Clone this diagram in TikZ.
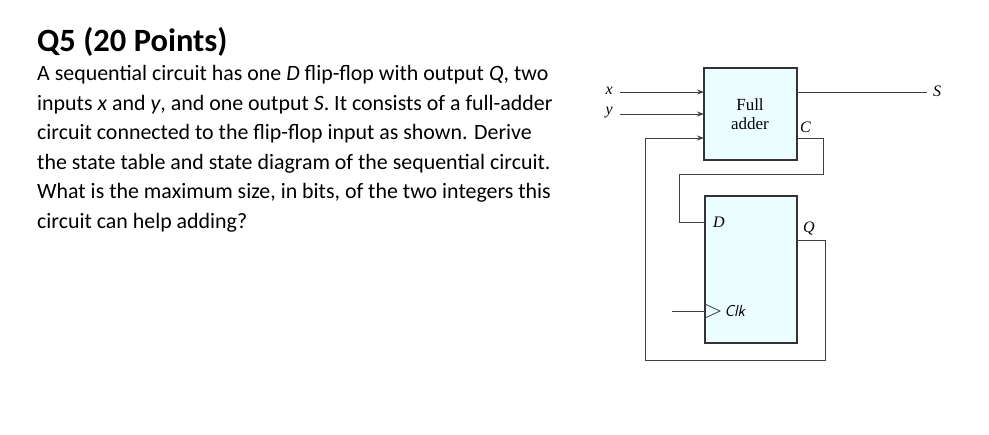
\documentclass[tikz,border=0pt]{standalone}
\usepackage{fontspec}
\setmainfont{Carlito}
\newfontfamily\serifc{Liberation Serif}
\usetikzlibrary{arrows.meta}
\begin{document}
\begin{tikzpicture}[x=1pt,y=-1pt,
  blk/.style={draw=black!80,line width=1.2pt,fill=blue!10!cyan!8},
  wire/.style={draw=black!75,line width=0.9pt},
  arr/.style={wire,-{Stealth[length=7pt,width=5pt]}},
  lbl/.style={font=\serifc\itshape\fontsize{16}{17}\selectfont,inner sep=1pt},
  txt/.style={anchor=base west,inner sep=0pt,font=\fontsize{21.9}{24}\selectfont}]
\useasboundingbox (0,0) rectangle (989,435);
% text
\node[txt,font=\bfseries\fontsize{32.5}{34}\selectfont] (t0) at (37,52) {Q5 (20 Points)};
\node[txt] (t1) at (37,81) {A sequential circuit has one \textit{D} flip-flop with output \textit{Q}, two};
\node[txt] (t2) at (37,110.5) {inputs \textit{x} and \textit{y}, and one output \textit{S}. It consists of a full-adder};
\node[txt] (t3) at (37,140) {circuit connected to the flip-flop input as shown. Derive};
\node[txt] (t4) at (37,169.5) {the state table and state diagram of the sequential circuit.};
\node[txt] (t5) at (37,199) {What is the maximum size, in bits, of the two integers this};
\node[txt] (t6) at (37,228.5) {circuit can help adding?};
% blocks
\draw[blk] (704,68) rectangle (797,160);
\node[font=\serifc\fontsize{17}{19}\selectfont,align=center] (fa) at (750,114) {Full\\adder};
\draw[blk] (705,196) rectangle (797,343);
% inputs
\coordinate (xs) at (620,92); \coordinate (xe) at (704,92);
\coordinate (ys) at (620,114); \coordinate (ye) at (704,114);
\coordinate (ce) at (704,138);
\node[lbl,anchor=east] (xl) at (614,91) {x};
\node[lbl,anchor=east] (yl) at (614,113) {y};
\draw[arr] (xs) -- (xe);
\draw[arr] (ys) -- (ye);
% S
\coordinate (so) at (797,92); \coordinate (se) at (927,92);
\draw[wire] (so) -- (se);
\node[lbl,anchor=west] (sl) at (932,91) {S};
% C to D
\coordinate (co) at (797,138); \coordinate (din) at (705,222);
\node[lbl,anchor=south west] (cl) at (799,134) {C};
\draw[wire] (co) -| (823,174) -| (679,222) -- (din);
\node[lbl] (dl) at (719,222) {D};
% Q back
\coordinate (qo) at (797,240);
\node[lbl,anchor=south west] (ql) at (802,236) {Q};
\draw[arr] (qo) -| (825,360) -| (645,138) -- (ce);
% clk
\coordinate (ck) at (705,311); \coordinate (cks) at (672,311);
\draw[wire] (cks) -- (ck);
\draw[wire,line width=0.8pt] (705,304) -- (720,311) -- (705,318);
\node[font=\sffamily\itshape\fontsize{16}{17}\selectfont,anchor=west] (clk) at (721,311) {Clk};
\end{tikzpicture}
\end{document}
